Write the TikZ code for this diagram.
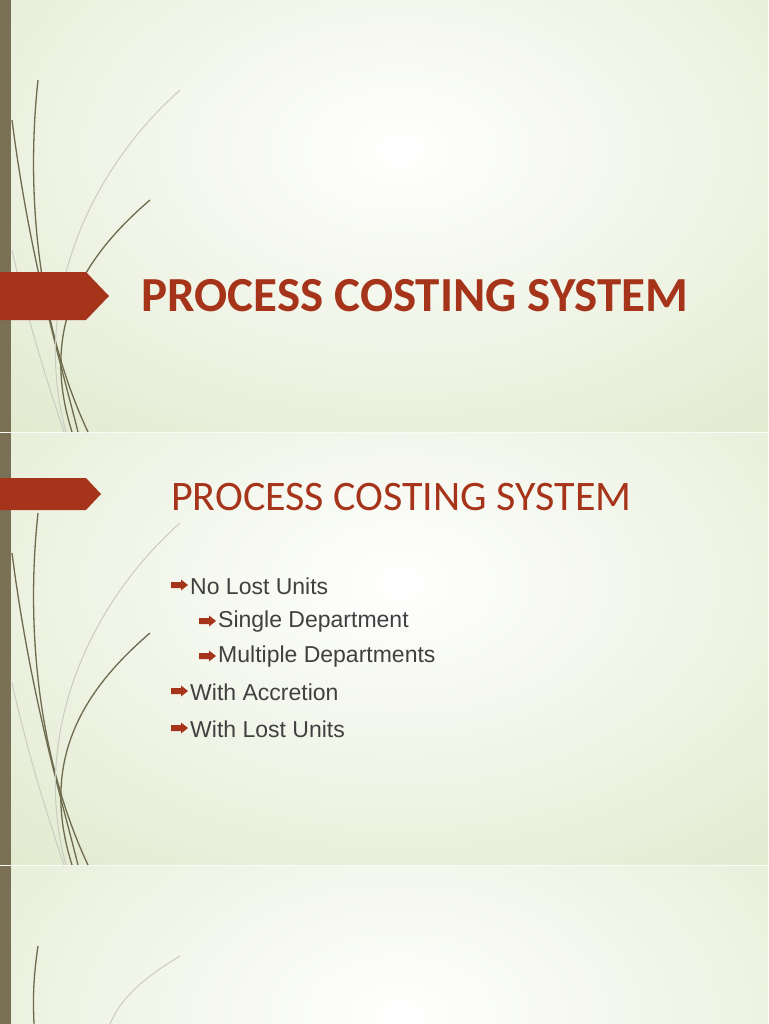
\documentclass[tikz,border=0pt]{standalone}
\usepackage{fontspec}
\setmainfont{Carlito}
\newfontfamily\bodyfont{Liberation Sans}
\definecolor{bgG}{HTML}{DCE6C6}
\definecolor{redB}{HTML}{A6341B}
\definecolor{barC}{HTML}{7A7055}
\definecolor{lineC}{HTML}{6E6A4E}
\definecolor{txtC}{HTML}{404040}
\tikzset{
 banner/.style={fill=redB,draw=none},
 deco/.style={draw=lineC,line width=1.3pt},
 decolight/.style={draw=lineC!35,line width=1pt},
 bul/.style={anchor=west,font=\bodyfont\fontsize{23}{27}\selectfont,text=txtC,inner sep=0pt},
}
\newcommand{\slidebg}[2]{% top, bottom
 \begin{scope}
 \clip (0,#1) rectangle (768,#2);
 \shade[inner color=white,outer color=bgG] (-300,#1-300) rectangle (1100,#1+600);
 \end{scope}
 \fill[barC] (0,#1) rectangle (11,#2);
}
\newcommand{\decos}[1]{%
 \begin{scope}[shift={(0,#1)}]
 \clip (11,0) rectangle (200,432);
 \draw[deco] (12,120) .. controls (30,260) and (60,360) .. (78,432);
 \draw[deco] (38,80) .. controls (25,200) and (40,330) .. (88,432);
 \draw[deco] (150,200) .. controls (80,260) and (40,330) .. (72,432);
 \draw[decolight] (180,90) .. controls (90,170) and (30,300) .. (66,432);
 \draw[decolight] (12,250) .. controls (30,330) and (50,390) .. (64,432);
 \end{scope}
}
\begin{document}
\begin{tikzpicture}[x=1pt,y=-1pt]
\useasboundingbox (0,0) rectangle (768,1024);
\slidebg{0}{432}
\slidebg{433}{865}
\slidebg{866}{1024}
\fill[white!85!bgG] (0,432) rectangle (768,433);
\fill[white!85!bgG] (0,865) rectangle (768,866);
\decos{0}
\decos{433}
\begin{scope}
 \clip (11,866) rectangle (200,1024);
 \draw[deco] (38,946) .. controls (33,980) and (33,1000) .. (34,1024);
 \draw[decolight] (180,956) .. controls (140,980) and (120,1000) .. (110,1024);
\end{scope}
\fill[banner] (0,272) -- (86,272) -- (109,296) -- (86,320) -- (0,320) -- cycle;
\fill[banner] (0,478) -- (86,478) -- (101,494) -- (86,510) -- (0,510) -- cycle;
\node[font=\bfseries\fontsize{49}{54}\selectfont,text=redB] (t1) at (415,296) {PROCESS COSTING SYSTEM};
\node[font=\fontsize{42}{48}\selectfont,text=redB,anchor=west,inner sep=0pt] (t2) at (171,497) {PROCESS COSTING SYSTEM};
\newcommand{\arr}[2]{\fill[redB] (#1,#2-3) -- (#1+10,#2-3) -- (#1+10,#2-5.5) -- (#1+17,#2) -- (#1+10,#2+5.5) -- (#1+10,#2+3) -- (#1,#2+3) -- cycle;}
\arr{171}{585}\node[bul] (b1) at (190,586) {No Lost Units};
\arr{199}{621}\node[bul] (b2) at (218,622) {Single Department};
\arr{199}{656}\node[bul] (b3) at (218,657) {Multiple Departments};
\arr{171}{691}\node[bul] (b4) at (190,692) {With Accretion};
\arr{171}{728}\node[bul] (b5) at (190,729) {With Lost Units};
\end{tikzpicture}
\end{document}
